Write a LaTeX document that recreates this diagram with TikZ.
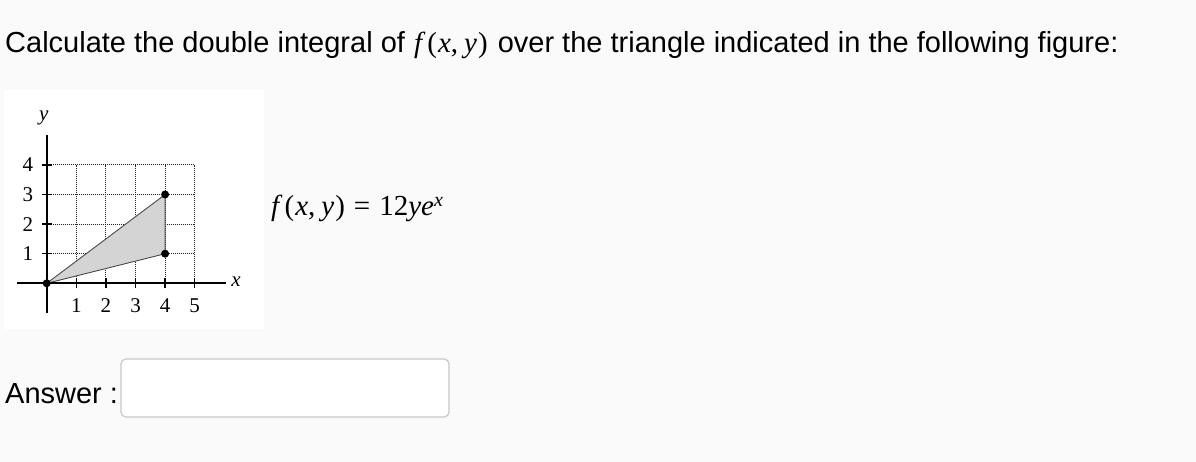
\documentclass[tikz,border=0pt]{standalone}
\usepackage{fontspec}
\setmainfont{Liberation Sans}
\newfontfamily\serifpart{Liberation Serif}
\usetikzlibrary{positioning, arrows.meta}
\definecolor{pagebg}{HTML}{FAFAFA}
\definecolor{boxline}{HTML}{C8C8C8}
\definecolor{regionfill}{HTML}{D4D4D4}
\newcommand{\fxy}{{\serifpart\fontsize{29}{32}\selectfont\textit{f}\kern2pt(\kern1pt\textit{x},\kern6pt\textit{y}\kern1pt)}}
\tikzset{
  pagetext/.style={anchor=base west, inner sep=0pt, font=\fontsize{29}{32}\selectfont},
  ticklab/.style={inner sep=0pt, font=\serifpart\fontsize{21}{23}\selectfont},
  gridline/.style={densely dotted, line width=1pt, black!85},
  vertexdot/.style={circle, fill=black, inner sep=0pt, minimum size=8pt}
}
\begin{document}
\begin{tikzpicture}[>=latex, x=1pt, y=-1pt]
\useasboundingbox (0,0) rectangle (1196,462);
\fill[pagebg] (0,0) rectangle (1196,462);
\node[pagetext] (title) at (5,53) {Calculate the double integral of\kern9pt\fxy\kern2pt{} over the triangle indicated in the following figure:};

\fill[white] (4,90) rectangle (264,329);
\begin{scope}[shift={(46.7,283.3)}, x=29.6pt, y=29.6pt]
\foreach \i in {1,...,5} \draw[gridline](\i,0)--(\i,4);
\foreach \j in {1,...,4} \draw[gridline](0,\j)--(5,\j);
\filldraw[fill=regionfill, draw=black!70, line width=0.9pt](0,0)--(4,3)--(4,1)--cycle;
\draw[line width=1.8pt](-1,0)--(6.06,0);
\draw[line width=1.8pt](0,-1)--(0,5);
\foreach \i in {1,...,5} \draw[line width=1.3pt](\i,-0.17)--(\i,0.17);
\foreach \j in {1,...,4} \draw[line width=1.3pt](-0.17,\j)--(0.17,\j);
\foreach \i in {1,...,5} \node[ticklab] (xl\i) at (\i,-0.75) {\i};
\foreach \j in {1,...,4} \node[ticklab] (yl\j) at (-0.64,\j) {\j};
\node[ticklab] (xlab) at (6.4,0.05) {\itshape x};
\node[ticklab] (ylab) at (-0.1,5.6) {\itshape y};
\node[vertexdot] (o) at (0,0) {};
\node[vertexdot] (p) at (4,3) {};
\node[vertexdot] (q) at (4,1) {};
\end{scope}

\node[pagetext] (func) at (271,216) {\fxy{\serifpart\fontsize{29}{32}\selectfont\kern9pt=\kern9pt12\textit{ye}\raisebox{9pt}{\fontsize{20}{22}\selectfont\textit{x}}}};

\node[pagetext] (ans) at (5,403) {Answer :};
\draw[boxline, fill=white, line width=1.2pt, rounded corners=5pt] (121,359) rectangle (449,417);
\end{tikzpicture}
\end{document}
